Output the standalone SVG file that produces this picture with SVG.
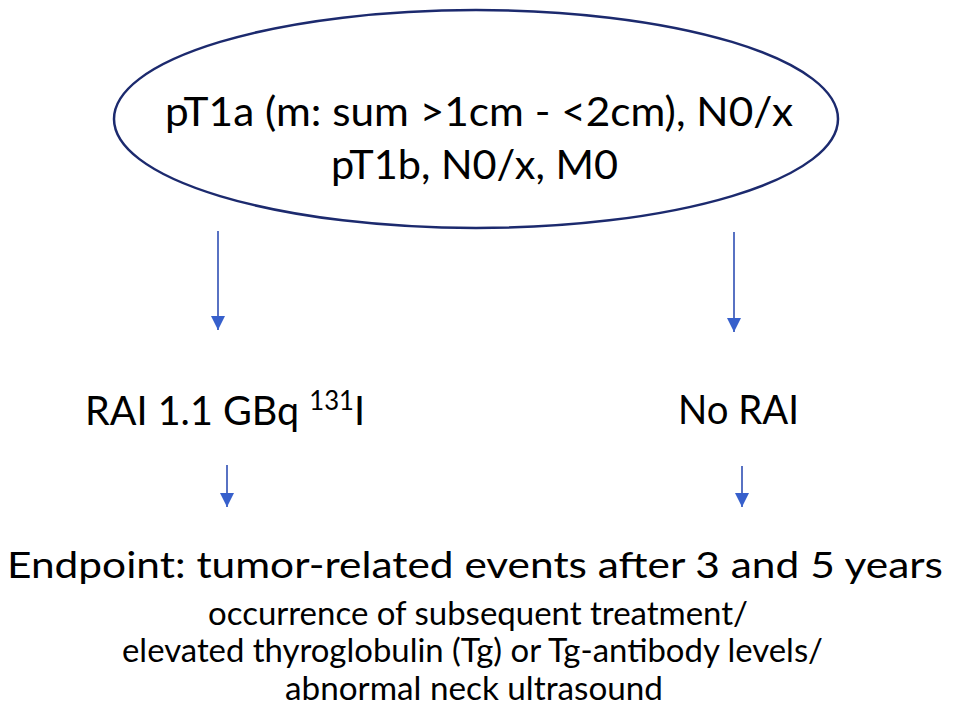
<svg xmlns="http://www.w3.org/2000/svg" width="957" height="715" viewBox="0 0 957 715">
<style>
  text { font-family: Lato, "Open Sans", "Liberation Sans", sans-serif; fill: #000; text-anchor: middle; }
  .oval { fill: #fff; stroke: #1c2a6e; stroke-width: 2.5; }
  .arr { stroke: #2f4fb4; stroke-width: 1.6; fill: none; marker-end: url(#ah); }
  .t1 { font-size: 41px; }
  .t2 { font-size: 40px; }
  .t3 { font-size: 37px; }
  .t4 { font-size: 32.5px; }
</style>
<defs>
  <marker id="ah" markerUnits="userSpaceOnUse" markerWidth="16" markerHeight="16" refX="14" refY="7" orient="auto">
    <path d="M0,0 L14,7 L0,14 Z" fill="#3760cc"/>
  </marker>
</defs>
<rect width="957" height="715" fill="#fff"/>
<g id="connectors">
  <line class="arr" x1="218" y1="231" x2="218" y2="330"/>
  <line class="arr" x1="734" y1="232" x2="734" y2="332"/>
  <line class="arr" x1="227" y1="465" x2="227" y2="507"/>
  <line class="arr" x1="742" y1="466" x2="742" y2="507"/>
</g>
<g id="start">
  <ellipse class="oval" cx="476" cy="119" rx="362" ry="109"/>
  <text class="t1" x="479" y="126" textLength="628" lengthAdjust="spacingAndGlyphs">pT1a (m: sum &gt;1cm - &lt;2cm), N0/x</text>
  <text class="t1" x="474.5" y="179" textLength="287" lengthAdjust="spacingAndGlyphs">pT1b, N0/x, M0</text>
</g>
<g id="rai">
  <text class="t2" x="85" y="425" style="text-anchor:start" textLength="280" lengthAdjust="spacingAndGlyphs">RAI 1.1 GBq <tspan font-size="26" dy="-15">131</tspan><tspan dy="15">I</tspan></text>
</g>
<g id="norai">
  <text class="t2" x="738.5" y="424" textLength="121" lengthAdjust="spacingAndGlyphs">No RAI</text>
</g>
<g id="endpoint">
  <text class="t3" x="475" y="578" textLength="936" lengthAdjust="spacingAndGlyphs">Endpoint: tumor-related events after 3 and 5 years</text>
  <text class="t4" x="478" y="625" textLength="540" lengthAdjust="spacingAndGlyphs">occurrence of subsequent treatment/</text>
  <text class="t4" x="472.5" y="662" textLength="701" lengthAdjust="spacingAndGlyphs">elevated thyroglobulin (Tg) or Tg-antibody levels/</text>
  <text class="t4" x="474" y="700" textLength="378" lengthAdjust="spacingAndGlyphs">abnormal neck ultrasound</text>
</g>
</svg>
